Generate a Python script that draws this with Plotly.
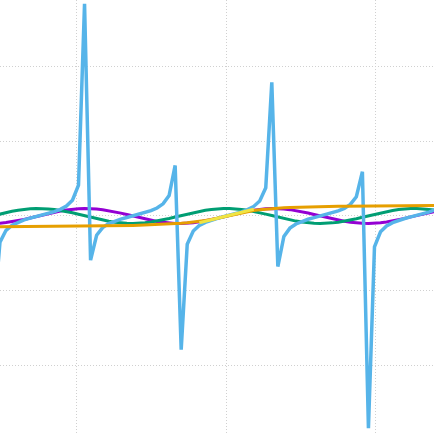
import plotly.graph_objects as go

x_vals = [-7.97980, -7.77778, -7.57576, -7.37374, -7.17172, -6.96970, -6.76768, -6.56566, -6.36364, -6.16162,
          -5.95960, -5.75758, -5.55556, -5.35354, -5.15152, -4.94949, -4.74747, -4.54545, -4.34343, -4.14141,
          -3.93939, -3.73737, -3.53535, -3.33333, -3.13131, -2.92929, -2.72727, -2.52525, -2.32323, -2.12121,
          -1.91919, -1.71717, -1.51515, -1.31313, -1.11111, -0.90909, -0.70707, -0.50505, -0.30303, -0.10101,
          0.10101, 0.30303, 0.50505, 0.70707, 0.90909, 1.11111, 1.31313, 1.51515, 1.71717, 1.91919,
          2.12121, 2.32323, 2.52525, 2.72727, 2.92929, 3.13131, 3.33333, 3.53535, 3.73737, 3.93939,
          4.14141, 4.34343, 4.54545, 4.74747, 4.94949, 5.15152, 5.35354, 5.55556, 5.75758, 5.95960,
          6.16162, 6.36364, 6.56566, 6.76768, 6.96970, 7.17172, 7.37374]

sin_vals = [-0.99210, -0.99710, -0.96155, -0.88688, -0.77615, -0.63385, -0.46576, -0.27873, -0.08037, 0.12127,
            0.31797, 0.50174, 0.66510, 0.80141, 0.90512, 0.97202, 0.99939, 0.98610, 0.93270, 0.84137,
            0.71582, 0.56115, 0.38366, 0.19057, -0.01028, -0.21071, -0.40257, -0.57806, -0.73003, -0.85231,
            -0.93992, -0.98931, -0.99845, -0.96699, -0.89619, -0.78894, -0.64961, -0.48385, -0.29841, -0.10084,
            0.10084, 0.29841, 0.48385, 0.64961, 0.78894, 0.89619, 0.96699, 0.99845, 0.98931, 0.93992,
            0.85231, 0.73003, 0.57806, 0.40257, 0.21071, 0.01028, -0.19057, -0.38366, -0.56115, -0.71582,
            -0.84137, -0.93270, -0.98610, -0.99939, -0.97202, -0.90512, -0.80141, -0.66510, -0.50174, -0.31797,
            -0.12127, 0.08037, 0.27873, 0.46576, 0.63385, 0.77615, 0.88688]

cos_vals = [-0.12548, 0.07613, 0.27465, 0.46199, 0.63055, 0.77346, 0.88491, 0.96037, 0.99677, 0.99262,
            0.94810, 0.86502, 0.74675, 0.59811, 0.42515, 0.23489, 0.03508, -0.16616, -0.36065, -0.54046,
            -0.69829, -0.82771, -0.92348, -0.98167, -0.99995, -0.97755, -0.91539, -0.81600, -0.68342, -0.52304,
            -0.34139, -0.14585, 0.05562, 0.25482, 0.44367, 0.61446, 0.76027, 0.87515, 0.95444, 0.99490,
            0.99490, 0.95444, 0.87515, 0.76027, 0.61446, 0.44367, 0.25482, 0.05562, -0.14585, -0.34139,
            -0.52304, -0.68342, -0.81600, -0.91539, -0.97755, -0.99995, -0.98167, -0.92348, -0.82771, -0.69829,
            -0.54046, -0.36065, -0.16616, 0.03508, 0.23489, 0.42515, 0.59811, 0.74675, 0.86502, 0.94810,
            0.99262, 0.99677, 0.96037, 0.88491, 0.77346, 0.63055, 0.46199]

tan_vals = [7.90613, -13.0973, -3.50101, -1.91969, -1.23091, -0.81950, -0.52634, -0.29024, -0.08063, 0.12217,
            0.33537, 0.58003, 0.89065, 1.33991, 2.12896, 4.13820, 28.4897, -5.93464, -2.58621, -1.55679,
            -1.02511, -0.67795, -0.41545, -0.19413, 0.01028, 0.21555, 0.43978, 0.70840, 1.06820, 1.62953,
            2.75323, 6.78295, -17.952, -3.7947, -2.01994, -1.28395, -0.85445, -0.55288, -0.31266, -0.10135,
            0.10135, 0.31266, 0.55288, 0.85445, 1.28395, 2.01994, 3.7947, 17.952, -6.78295, -2.75323,
            -1.62953, -1.06820, -0.70840, -0.43978, -0.21555, -0.01028, 0.19413, 0.41545, 0.67795, 1.02511,
            1.55679, 2.58621, 5.93464, -28.4897, -4.13820, -2.12896, -1.33991, -0.89065, -0.58003, -0.33537,
            -0.12217, 0.08063, 0.29024, 0.52634, 0.81950, 1.23091, 1.91969]

atan_vals = [-1.44613, -1.44293, -1.43956, -1.43600, -1.43225, -1.42829, -1.42410, -1.41965, -1.41493, -1.40990,
             -1.40455, -1.39883, -1.39270, -1.38613, -1.37906, -1.37144, -1.36319, -1.35425, -1.34451, -1.33387,
             -1.32220, -1.30935, -1.29514, -1.27934, -1.26168, -1.24182, -1.21935, -1.19374, -1.16433, -1.13027,
             -1.09045, -1.04345, -0.98742, -0.91995, -0.83798, -0.73782, -0.61547, -0.46769, -0.29424, -0.10067,
             0.10067, 0.29424, 0.46769, 0.61547, 0.73782, 0.83798, 0.91995, 0.98742, 1.04345, 1.09045,
             1.13027, 1.16433, 1.19374, 1.21935, 1.24182, 1.26168, 1.27934, 1.29514, 1.30935, 1.32220,
             1.33387, 1.34451, 1.35425, 1.36319, 1.37144, 1.37906, 1.38613, 1.39270, 1.39883, 1.40455,
             1.40990, 1.41493, 1.41965, 1.42410, 1.42829, 1.43225, 1.43600]

lin_x = [-0.90909, -0.70707, -0.50505, -0.30303, -0.10101, 0.10101, 0.30303, 0.50505, 0.70707, 0.90909]
lin_y = [-0.90909, -0.70707, -0.50505, -0.30303, -0.10101, 0.10101, 0.30303, 0.50505, 0.70707, 0.90909]

series = [
    ("sin(x)", x_vals, sin_vals, "#9400D3", 3),
    ("cos(x)", x_vals, cos_vals, "#009E73", 3),
    ("tan(x)", x_vals, tan_vals, "#56B4E9", 3.5),
    ("atan(x)", x_vals, atan_vals, "#E69F00", 3),
    ("x", lin_x, lin_y, "#F0E442", 3),
]

fig = go.Figure()
for name, xs, ys, col, w in series:
    fig.add_trace(go.Scatter(x=xs, y=ys, mode="lines", name=name,
                             line=dict(color=col, width=w), showlegend=False))

grid = dict(showgrid=True, gridcolor="#d0d0d0", griddash="1px,2px", gridwidth=1,
            zeroline=False, showticklabels=False, ticks="", showline=False)
fig.update_xaxes(range=[-7.575, 6.94], dtick=5, tick0=0, **grid)
fig.update_yaxes(range=[-29.26, 28.99], dtick=10, tick0=0, **grid)
fig.update_layout(width=434, height=434, margin=dict(l=0, r=0, t=0, b=0),
                  plot_bgcolor="white", paper_bgcolor="white")
fig.write_html("out.html", config={"displayModeBar": False},
               post_script="document.body.style.margin='0';document.body.style.overflow='hidden';")
